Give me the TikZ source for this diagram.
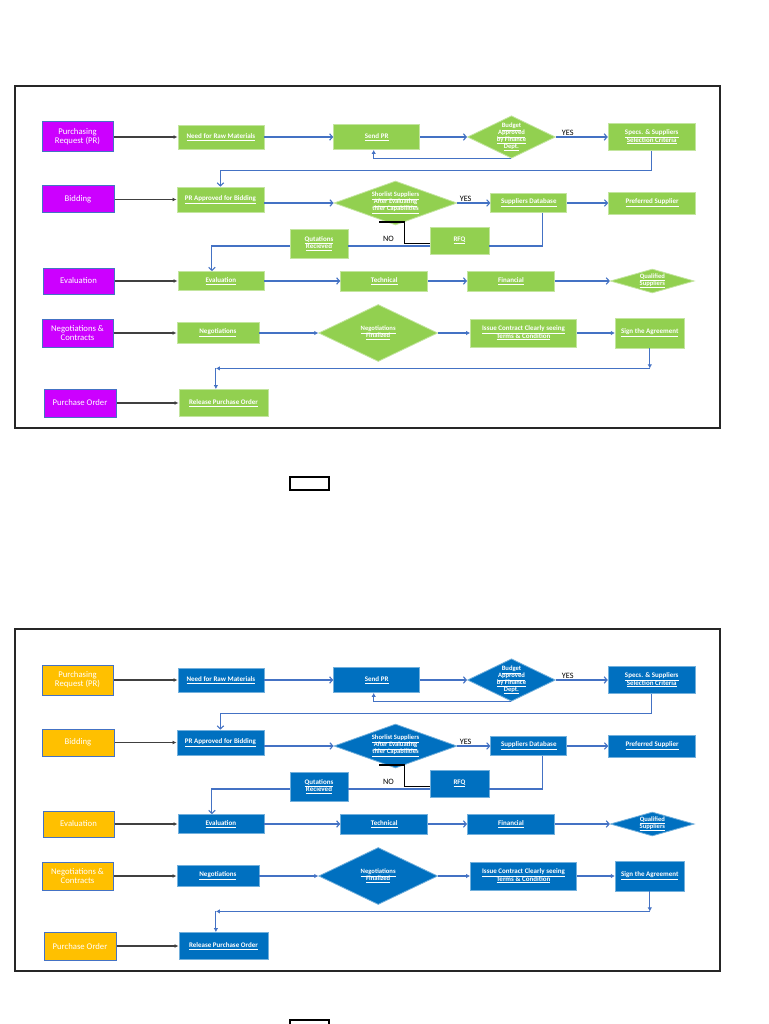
\documentclass[tikz,border=0pt]{standalone}
\usepackage{fontspec}
\setmainfont{Carlito}
\usetikzlibrary{positioning, shapes.geometric, arrows.meta, calc}

\definecolor{stagepurple}{HTML}{CC00FF}
\definecolor{stageorange}{HTML}{FFC000}
\definecolor{stepgreen}{HTML}{92D050}
\definecolor{stepblue}{HTML}{0070C0}
\definecolor{flowblue}{HTML}{4472C4}
\definecolor{framegray}{HTML}{262626}

\newcommand{\ulbl}[1]{\underline{#1}}

\begin{document}
\begin{tikzpicture}[
	x=1pt, y=-1pt,
	% --- Styles ---
	sz/.style 2 args={minimum width=#1pt, minimum height=#2pt},
	stagebox/.style={
		rectangle, draw=flowblue, line width=1pt, fill=\stagecol, text=white,
		inner sep=0pt, align=center, font=\fontsize{8.7}{9}\selectfont
	},
	stepbox/.style={
		rectangle, draw=\stepcol!55!white, line width=0.8pt, fill=\stepcol, text=white,
		inner sep=0pt, align=center, font={\fontsize{7}{7.4}\selectfont\bfseries\lineskiplimit=-6pt}
	},
	decbox/.style={stepbox, diamond, aspect=#1, font={\fontsize{6.6}{6.9}\selectfont\bfseries\lineskiplimit=-6pt}},
	link/.style={draw=black!75, line width=1.3pt, -{Latex[length=4pt, width=4pt]}},
	flow/.style={draw=flowblue, line width=1.1pt, -{Straight Barb[length=3pt, width=6.5pt]}},
	flowfill/.style={draw=flowblue, line width=1.1pt, -{Latex[length=4pt, width=4.5pt]}},
	plain/.style={draw=flowblue, line width=1.1pt},
	nobranch/.style={draw=black, line width=1.3pt},
	answer/.style={font=\fontsize{8.2}{9}\selectfont, inner sep=1pt},
	frame/.style={draw=framegray, line width=1.4pt}
	]
	
	\useasboundingbox (0,0) rectangle (768,1024);
	\clip (0,0) rectangle (768,1024);
	\fill[white] (0,0) rectangle (768,1024);
	
	% same chart twice: purple/green, then orange/blue
	\foreach \stagecol/\stepcol/\dy in {stagepurple/stepgreen/0, stageorange/stepblue/543}{
	\begin{scope}[shift={(0,\dy)}]
		
		% --- Frame ---
		\draw[frame] (15,86) rectangle (720,428);
		
		% --- 1. Stage column ---
		\node[stagebox, sz={71}{30}] (pr) at (77.5,137) {Purchasing\\Request (PR)};
		\node[stagebox, sz={72}{27}] (bid) at (78,199.5) {Bidding};
		\node[stagebox, sz={71}{26}] (evalst) at (78.5,281) {Evaluation};
		\node[stagebox, sz={71}{28}] (negst) at (77.5,333) {Negotiations \&\\Contracts};
		\node[stagebox, sz={72}{28}] (po) at (80,403) {Purchase Order};
		
		% --- 2. Row 1: request ---
		\node[stepbox, sz={86}{24}, right=64pt of pr] (need) {\ulbl{Need for Raw Materials}};
		\node[stepbox, sz={86}{25}, right=69pt of need] (sendpr) {\ulbl{Send PR}};
		\node[decbox=2.07, sz={85}{41}, right=47pt of sendpr] (budget) {\ulbl{Budget}\\\ulbl{Approved}\\\ulbl{by Finance}\\\ulbl{Dept.}};
		\node[stepbox, sz={87}{27}, right=52pt of budget] (specs) {\ulbl{Specs. \& Suppliers}\\\ulbl{Selection Criteria}};
		
		% --- 3. Row 2: bidding ---
		\node[stepbox, sz={87}{25}, right=62pt of bid] (prapp) {\ulbl{PR Approved for Bidding}};
		\node[decbox=2.8, sz={123}{44}] (shortlist) at (395.5,203) {\ulbl{Shorlist Suppliers}\\\ulbl{After Evaluating}\\\ulbl{thier Capabilities}};
		\node[stepbox, sz={76}{19}, right=33pt of shortlist] (suppdb) {\ulbl{Suppliers Database}};
		\node[stepbox, sz={87}{22}, right=41pt of suppdb] (pref) {\ulbl{Preferred Supplier}};
		\node[stepbox, sz={59}{27}] (rfq) at (459.5,240.5) {\ulbl{RFQ}};
		\node[stepbox, sz={58}{29}] (quot) at (319,243.5) {\ulbl{Qutations}\\\ulbl{Recieved}};
		
		% --- 4. Row 3: evaluation ---
		\node[stepbox, sz={86}{19}, right=63pt of evalst] (evalstep) {\ulbl{Evaluation}};
		\node[stepbox, sz={87}{20}, right=76pt of evalstep] (tech) {\ulbl{Technical}};
		\node[stepbox, sz={87}{20}, right=39pt of tech] (fin) {\ulbl{Financial}};
		\node[decbox=3.5, sz={84}{24}, right=55pt of fin] (qual) {\ulbl{Qualified}\\\ulbl{Suppliers}};
		
		% --- 5. Row 4: negotiations ---
		\node[stepbox, sz={82}{21}, right=63pt of negst] (neg) {\ulbl{Negotiations}};
		\node[decbox=2.09, sz={119}{57}, right=59pt of neg] (negfin) {\ulbl{Negotiations}\\\ulbl{Finalized}};
		\node[stepbox, sz={106}{28}, right=32pt of negfin] (issue) {\ulbl{Issue Contract Clearly seeing}\\\ulbl{Terms \& Condition}};
		\node[stepbox, sz={69}{30}, right=38pt of issue] (sign) {\ulbl{Sign the Agreement}};
		
		% --- 6. Row 5: order ---
		\node[stepbox, sz={89}{27}, right=62pt of po] (release) {\ulbl{Release Purchase Order}};
		
		% --- Stage to step ---
		\draw[link] (pr) -- (need);
		\draw[link] (bid) -- (prapp);
		\draw[link] (evalst) -- (evalstep);
		\draw[link] (negst) -- (neg);
		\draw[link] (po) -- (release);
		
		% --- Row 1 connections ---
		\draw[flow] (need) -- (sendpr);
		\draw[flow] (sendpr) -- (budget);
		\draw[flow] (budget) -- node[answer, above, pos=0.23] {YES} (specs);
		\draw[flowfill] (budget.south) -| ([xshift=-3pt]sendpr.south);
		\draw[flow] (specs.south) |- ([yshift=16pt]prapp.north) -- (prapp.north);
		
		% --- Row 2 connections ---
		\draw[flow] (prapp.east |- shortlist.west) -- (shortlist.west);
		\draw[flow] (shortlist) -- node[answer, above, pos=0.25, inner sep=0.5pt] {YES} (suppdb);
		\draw[flow] (suppdb) -- (pref);
		\draw[plain] ([xshift=14pt]suppdb.south) |- ([yshift=-5.5pt]rfq.east);
		\draw[plain] ([yshift=-5.5pt]rfq.west) -- ([yshift=-2.5pt]quot.east);
		\draw[flow] ([yshift=-2.5pt]quot.west) -| ([xshift=-9pt]evalstep.north);
		
		% NO branch (black elbow)
		\coordinate (nofork) at (379,222);
		\draw[nobranch] (nofork) -| ($(nofork)!0.5!(rfq.west)$) |- ([yshift=-3pt]rfq.west);
		\node[answer] (nolbl) at (388.5,238.5) {NO};
		
		% --- Row 3 connections ---
		\draw[flow] (evalstep) -- (tech);
		\draw[flow] (tech) -- (fin);
		\draw[flow] (fin) -- (qual);
		
		% --- Row 4 connections ---
		\draw[flowfill] (neg) -- (negfin);
		\draw[flowfill] (negfin) -- (issue);
		\draw[flowfill] (issue) -- (sign);
		
		% back to the order row
		\coordinate (backturn) at ([yshift=-20pt]sign.south);
		\coordinate (retx) at ([xshift=-7.5pt]release.north);
		\draw[flowfill] (sign.south) -- (backturn);
		\draw[flowfill] (backturn) -- (backturn -| retx);
		\draw[flowfill] (backturn -| retx) -- (retx);
		
		% --- Empty box under the chart ---
		\node[draw=black, line width=1.8pt, sz={39}{13}] (blank) at (309.5,483.5) {};
		
	\end{scope}
	}
	
\end{tikzpicture}
\end{document}
